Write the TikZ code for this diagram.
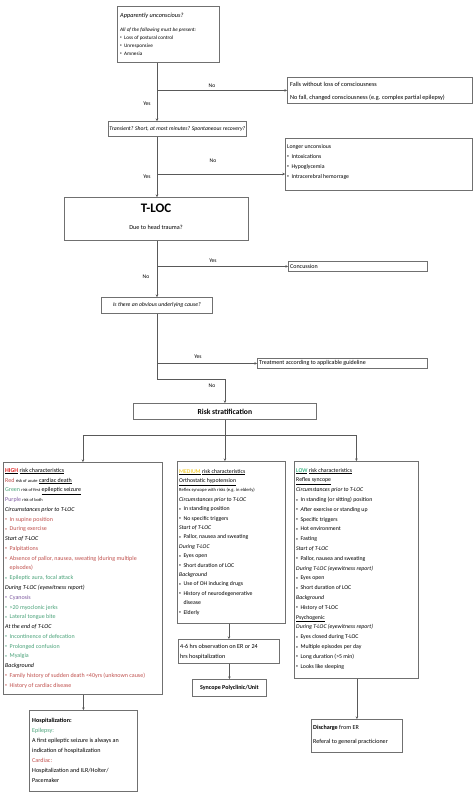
\documentclass[tikz,border=0pt]{standalone}
\usepackage{fontspec}
\usepackage{graphicx}
\setmainfont{Carlito}
\usetikzlibrary{arrows.meta,calc,shadows}
\definecolor{boxc}{HTML}{707070}
\definecolor{linec}{HTML}{595959}
\definecolor{hred}{HTML}{E02424}
\definecolor{cred}{HTML}{C0504D}
\definecolor{cgreen}{HTML}{4BA37A}
\definecolor{cpurple}{HTML}{7E5AA0}
\definecolor{cmed}{HTML}{F2C200}
\definecolor{clow}{HTML}{00A060}
\newcommand{\fs}[2]{\fontsize{#1}{#2}\selectfont}
\newcommand{\bu}{\makebox[0.75em][l]{\raisebox{0.2ex}{\scalebox{0.65}{\textbullet}}}}
\newcommand{\ind}{\hspace*{0.75em}}
\begin{document}
\begin{tikzpicture}[x=1pt,y=-1pt,
  boxst/.style={draw=boxc,line width=0.8pt,fill=white,inner sep=0pt,anchor=north west,
    drop shadow={shadow xshift=0.9pt,shadow yshift=-0.9pt,fill=gray!60,opacity=0.6}},
  txt/.style={inner sep=0pt,anchor=north west,align=left},
  conn/.style={draw=linec,line width=0.8pt},
  arr/.style={conn,-{Stealth[length=2.6pt,width=2.6pt]}},
  lbl/.style={inner sep=0pt,font=\fs{5.6}{6}}]
\useasboundingbox[fill=white] (0,0) rectangle (474,793);

% ---------- boxes ----------
\node[boxst,minimum width=102pt,minimum height=56pt] (top) at (117,6) {};
\node[boxst,minimum width=185pt,minimum height=26pt] (fall) at (287,77) {};
\node[boxst,minimum width=138pt,minimum height=15pt] (trans) at (108,121) {};
\node[boxst,minimum width=187pt,minimum height=52pt] (longer) at (285,138) {};
\node[boxst,minimum width=184pt,minimum height=43pt] (tloc) at (64,197) {};
\node[boxst,minimum width=139pt,minimum height=10pt] (conc) at (288,261) {};
\node[boxst,minimum width=111pt,minimum height=16pt] (under) at (101,297) {};
\node[boxst,minimum width=170pt,minimum height=10pt] (treat) at (257,358) {};
\node[boxst,minimum width=183pt,minimum height=16pt] (rs) at (133,403) {};
\node[boxst,minimum width=159pt,minimum height=232pt] (high) at (3,462) {};
\node[boxst,minimum width=108pt,minimum height=162pt] (med) at (177,461) {};
\node[boxst,minimum width=124pt,minimum height=217pt] (low) at (294,461) {};
\node[boxst,minimum width=108pt,minimum height=81pt] (hosp) at (29,710) {};
\node[boxst,minimum width=101pt,minimum height=24pt] (obs) at (178,639) {};
\node[boxst,minimum width=74pt,minimum height=17pt] (sync) at (192,679) {};
\node[boxst,minimum width=91pt,minimum height=33pt] (disc) at (311,719) {};

% ---------- texts ----------
\node[txt,font=\fs{5.2}{8}] (toptx) at (120,11.4) {{\fs{6.3}{8}\itshape\strut Apparently unconscious?}\\[6pt]
  \textit{All of the following must be present:}\\
  \bu Loss of postural control\\
  \bu Unresponsive\\
  \bu Amnesia};
\node[txt,font=\fs{6.2}{13}] (falltx) at (290,76.9) {\strut Falls without loss of consciousness\\
  No fall, changed consciousness (e.g. complex partial epilepsy)};
\node[inner sep=0pt,font=\itshape\fs{5.7}{7}] (transtx) at (trans.center) {Transient? Short, at most minutes? Spontaneous recovery?};
\node[txt,font=\fs{5.8}{10}] (longtx) at (287,141) {\strut Longer unconsious\\
  \bu Intoxications\\
  \bu Hypoglycemia\\
  \bu Intracerebral hemorrage};
\node[inner sep=0pt,font=\bfseries\fs{13}{14}] (tloct) at (156,208.5) {T-LOC};
\node[inner sep=0pt,font=\fs{6.2}{7}] (tlocq) at (156,227) {Due to head trauma?};
\node[inner sep=0pt,anchor=west,font=\fs{6}{7}] (conctx) at ([xshift=2pt]conc.west) {Concussion};
\node[inner sep=0pt,font=\itshape\fs{5.8}{7}] (undertx) at (under.center) {Is there an obvious underlying cause?};
\node[inner sep=0pt,anchor=west,font=\fs{6}{7}] (treattx) at ([xshift=2pt]treat.west) {Treatment according to applicable guideline};
\node[inner sep=0pt,font=\bfseries\fs{7.6}{9}] (rstx) at (rs.center) {Risk stratification};

\node[txt,font=\fs{6}{9.77}] (hightx) at (5,465.2) {\strut\underline{\textbf{\color{hred}HIGH}} \underline{risk characteristics}\\
  {\color{cred}Red} {\fs{4.4}{9.77}risk of acute} \underline{cardiac death}\\
  {\color{cgreen}Green} {\fs{4.4}{9.77}risk of first} \underline{epileptic seizure}\\
  {\color{cpurple}Purple} {\fs{4.4}{9.77}risk of both}\\
  \textit{Circumstances prior to T-LOC}\\
  {\color{cred}\bu In supine position}\\
  {\color{cred}\bu During exercise}\\
  \textit{Start of T-LOC}\\
  {\color{cred}\bu Palpitations}\\
  {\color{cred}\bu Absence of pallor, nausea, sweating (during multiple}\\
  {\color{cred}\ind episodes)}\\
  {\color{cgreen}\bu Epileptic aura, focal attack}\\
  \textit{During T-LOC (eyewitness report)}\\
  {\color{cpurple}\bu Cyanosis}\\
  {\color{cgreen}\bu >20 myoclonic jerks}\\
  {\color{cgreen}\bu Lateral tongue bite}\\
  \textit{At the end of T-LOC}\\
  {\color{cgreen}\bu Incontinence of defecation}\\
  {\color{cgreen}\bu Prolonged confusion}\\
  {\color{cgreen}\bu Myalgia}\\
  \textit{Background}\\
  {\color{cred}\bu Family history of sudden death <40yrs (unknown cause)}\\
  {\color{cred}\bu History of cardiac disease}};

\node[txt,font=\fs{5.8}{9.4}] (medtx) at (179,466.4) {\strut\underline{{\color{cmed}MEDIUM}} \underline{risk characteristics}\\
  \underline{Orthostatic hypotension}\\
  {\fs{4.6}{9.4}Reflex syncope with risks (e.g. in elderly)}\\
  \textit{Circumstances prior to T-LOC}\\
  \bu In standing position\\
  \bu No specific triggers\\
  \textit{Start of T-LOC}\\
  \bu Pallor, nausea and sweating\\
  \textit{During T-LOC}\\
  \bu Eyes open\\
  \bu Short duration of LOC\\
  \textit{Background}\\
  \bu Use of OH inducing drugs\\
  \bu History of neurodegenerative\\
  \ind disease\\
  \bu Elderly};

\node[txt,font=\fs{5.8}{9.8}] (lowtx) at (296,465.1) {\strut\underline{{\color{clow}LOW}} \underline{risk characteristics}\\
  \underline{Reflex syncope}\\
  \textit{Circumstances prior to T-LOC}\\
  \bu In standing (or sitting) position\\
  \bu \textit{After} exercise or standing up\\
  \bu Specific triggers\\
  \bu Hot environment\\
  \bu Fasting\\
  \textit{Start of T-LOC}\\
  \bu Pallor, nausea and sweating\\
  \textit{During T-LOC (eyewitness report)}\\
  \bu Eyes open\\
  \bu Short duration of LOC\\
  \textit{Background}\\
  \bu History of T-LOC\\
  \underline{Psychogenic}\\
  \textit{During T-LOC (eyewitness report)}\\
  \bu Eyes closed during T-LOC\\
  \bu Multiple episodes per day\\
  \bu Long duration (>5 min)\\
  \bu Looks like sleeping};

\node[txt,font=\fs{6.1}{10.1}] (hosptx) at (32,714.9) {\strut\textbf{Hospitalization:}\\
  {\color{cgreen}Epilepsy:}\\
  A first epileptic seizure is always an\\
  indication of hospitalization\\
  {\color{cred}Cardiac:}\\
  Hospitalization and ILR/Holter/\\
  Pacemaker};
\node[txt,font=\fs{6.1}{10}] (obstx) at (180,641) {\strut 4-6 hrs observation on ER or 24\\ hrs hospitalization};
\node[inner sep=0pt,font=\bfseries\fs{6}{7}] (synctx) at (sync.center) {Syncope Polyclinic/Unit};
\node[txt,font=\fs{6.1}{14}] (disctx) at (313,719.2) {\strut\textbf{Discharge} from ER\\ Referal to general practicioner};

% ---------- connectors ----------
\coordinate (tr) at (157,0);
\coordinate (b2) at (157,174);
\coordinate (bend) at (157,379);
\coordinate (sp) at (0,435);

\draw[arr] (tr |- top.south) -- (tr |- trans.north);
\draw[arr] (tr |- fall.west) -- (fall.west);
\draw[arr] (tr |- trans.south) -- (tr |- tloc.north);
\draw[arr] (b2) -- (b2 -| longer.west);
\draw[arr] (tr |- tloc.south) -- (tr |- under.north);
\draw[arr] (tr |- conc.west) -- (conc.west);
\draw[arr] (tr |- under.south) -- (bend) -- (bend -| rs.north) -- (rs.north);
\draw[arr] (tr |- treat.west) -- (treat.west);

\draw[conn] (rs.south) -- (rs.south |- sp);
\draw[conn] (high.north |- sp) -- (low.north |- sp);
\draw[arr] (rs.south |- sp) -- (rs.south |- med.north);
\draw[arr] (high.north |- sp) -- (high.north);
\draw[arr] (low.north |- sp) -- (low.north);

\draw[arr] (high.south -| hosp.north) -- (hosp.north);
\draw[arr] (obs.north |- med.south) -- (obs.north);
\draw[arr] (obs.south -| sync.north) -- (sync.north);
\draw[arr] (low.south -| disc.north) -- (disc.north);

% ---------- labels ----------
\node[lbl] (l1) at (212,86) {No};
\node[lbl] (l2) at (147,104) {Yes};
\node[lbl] (l3) at (213,161) {No};
\node[lbl] (l4) at (147,177) {Yes};
\node[lbl] (l5) at (213,261) {Yes};
\node[lbl] (l6) at (146,277) {No};
\node[lbl] (l7) at (198,357) {Yes};
\node[lbl] (l8) at (212,386) {No};
\end{tikzpicture}
\end{document}
